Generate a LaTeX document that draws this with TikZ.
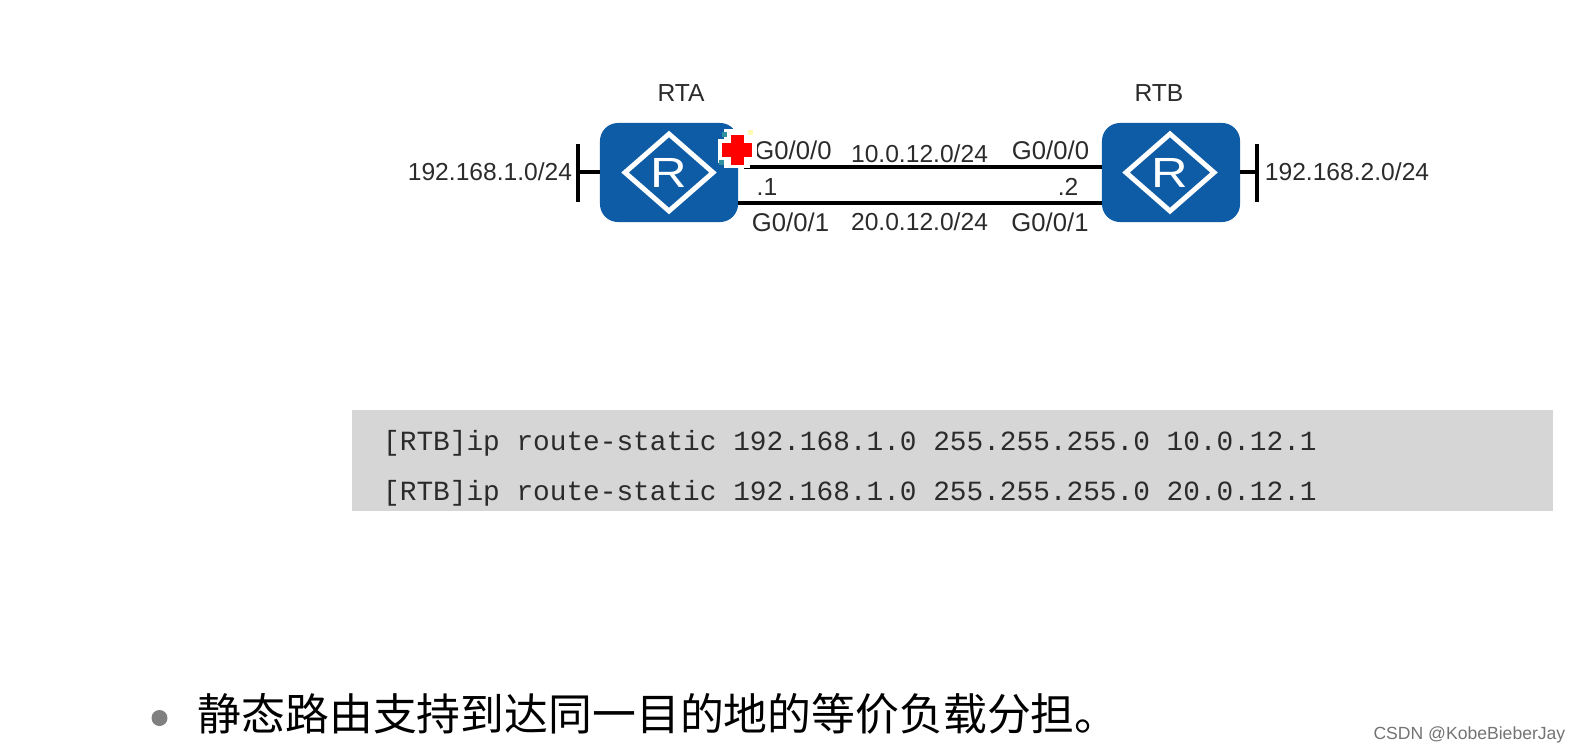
\documentclass[tikz,border=0pt]{standalone}
\usepackage{fontspec}
\setmainfont{Liberation Sans}
\setmonofont{Liberation Mono}
\newfontfamily\cjkfont{Noto Sans CJK SC}
\usetikzlibrary{shapes.geometric}
\definecolor{routerblue}{HTML}{0F5CA6}
\definecolor{codegray}{HTML}{D6D6D6}
\definecolor{textgray}{HTML}{2B2B2B}
\definecolor{speckteal}{HTML}{2F8F9F}
\tikzset{
	router/.style={rectangle, fill=routerblue, rounded corners=1.8mm, minimum width=1.38cm, minimum height=0.99cm, inner sep=0, outer sep=0},
	routermark/.style={diamond, draw=white, line width=1.4pt, minimum width=0.9cm, minimum height=0.79cm, inner sep=0, text=white, font=\fontsize{12}{13}\selectfont},
	label/.style={inner sep=0, text=textgray, font=\fontsize{7}{8}\selectfont},
	portlabel/.style={label, font=\fontsize{7.3}{8}\selectfont},
	codeline/.style={anchor=west, inner sep=0, text=textgray, font=\ttfamily\fontsize{7.9}{9}\selectfont},
	link/.style={line width=1pt, black},
}
\begin{document}
\begin{tikzpicture}[x=0.01cm, y=-0.01cm]
	%%%%% frame %%%%%
	\useasboundingbox (0, 0) rectangle (1582, 754);

	\node[router] (rta) at (669, 172.5) {};
	\node[router] (rtb) at (1171, 172.5) {};
	\node[routermark] (marka) at (669, 172.5) {\scalebox{1.2}[1]{R}};
	\node[routermark] (markb) at (1170, 172.5) {\scalebox{1.2}[1]{R}};
	\node[label] (namea) at (681, 93) {RTA};
	\node[label] (nameb) at (1159, 93) {RTB};

	%%%%% links %%%%%
	\coordinate (upa) at (744, 167);
	\coordinate (upb) at (rtb.west |- upa);
	\coordinate (downa) at (rta.east |- 0, 203);
	\coordinate (downb) at (rtb.west |- downa);
	\draw[link] (upa) -- (upb);
	\draw[link] (downa) -- (downb);

	\coordinate (stuba) at (578, 172);
	\coordinate (stubb) at (1257, 172);
	\coordinate (stuba1) at (578, 144);
	\coordinate (stuba2) at (578, 202);
	\coordinate (stubb1) at (1257, 144);
	\coordinate (stubb2) at (1257, 202);
	\draw[link] (stuba) -- (stuba -| rta.west);
	\draw[link] (stubb) -- (stubb -| rtb.east);
	\draw[link] (stuba1) -- (stuba2);
	\draw[link] (stubb1) -- (stubb2);

	%%%%% labels %%%%%
	\node[label] (neta) at (490, 172) {192.168.1.0/24};
	\node[label] (netb) at (1347, 172) {192.168.2.0/24};
	\node[portlabel] (upleft) at (793, 150) {G0/0/0};
	\node[portlabel] (upright) at (1050.5, 150) {G0/0/0};
	\node[portlabel] (downleft) at (790.5, 222) {G0/0/1};
	\node[portlabel] (downright) at (1050, 222) {G0/0/1};
	\node[label] (upnet) at (919.5, 154) {10.0.12.0/24};
	\node[label] (downnet) at (919.5, 222) {20.0.12.0/24};
	\node[label] (hosta) at (767, 187) {.1};
	\node[label] (hostb) at (1068, 187) {.2};

	%%%%% mouse pointer %%%%%
	\fill[white] (724, 129) rectangle (750, 168);
	\fill[white] (718, 139) rectangle (757, 163);
	\fill[speckteal] (722, 132) rectangle (727, 137);
	\fill[speckteal] (719, 160) rectangle (724, 165);
	\fill[white!70!yellow] (748, 130) rectangle (753, 135);
	\fill[red] (731, 135) rectangle (744, 165);
	\fill[red] (722, 143) rectangle (752, 157);

	%%%%% code %%%%%
	\fill[codegray] (352, 410) rectangle (1553, 511);
	\node[codeline] (route1) at (382.5, 443) {[RTB]ip route-static 192.168.1.0 255.255.255.0 10.0.12.1};
	\node[codeline] (route2) at (382.5, 493.5) {[RTB]ip route-static 192.168.1.0 255.255.255.0 20.0.12.1};

	%%%%% bullet %%%%%
	\fill[gray] (159.5, 718) circle (8);
	\node[anchor=west, inner sep=0, font=\cjkfont\fontsize{12.47}{14}\selectfont] (note) at (197, 714) {静态路由支持到达同一目的地的等价负载分担。};
	\node[anchor=east, inner sep=0, text=black!55, font=\fontsize{5}{6}\selectfont] (mark) at (1566, 735) {CSDN @KobeBieberJay};
\end{tikzpicture}
\end{document}
